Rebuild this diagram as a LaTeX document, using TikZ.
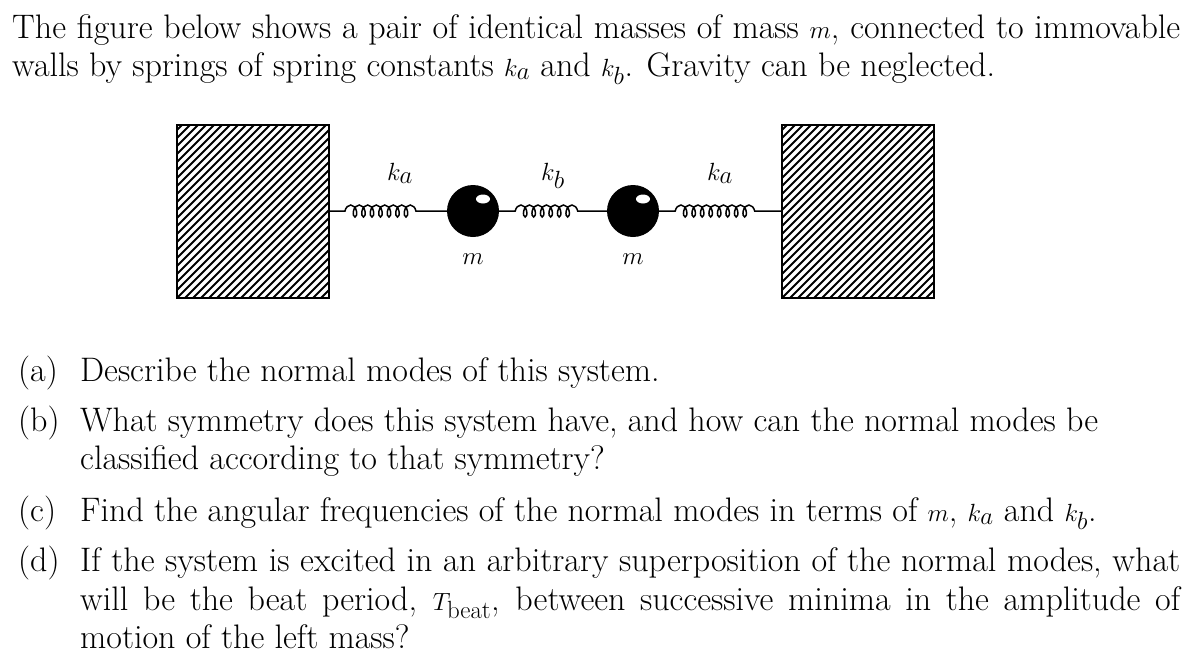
\documentclass[tikz,border=0pt]{standalone}
\usetikzlibrary{decorations.pathmorphing}
\begin{document}
\begin{tikzpicture}[x=1pt,y=-1pt,
  txt/.style={anchor=base west,inner sep=0pt,font=\fontsize{34}{40}\selectfont},
  wall/.style={draw,line width=1.8pt},
  spring/.style={decorate,decoration={coil,aspect=0.6,amplitude=6pt,segment length=8.5pt,pre length=16pt,post length=26pt},line width=1.5pt},
  ball/.style={circle,fill=black,minimum size=52pt,inner sep=0pt}]
\useasboundingbox (0,0) rectangle (1196,670);
\node[txt] (l1) at (12,38) {\makebox[1168pt][s]{The figure below shows a pair of identical masses of mass $m$, connected to immovable}};
\node[txt] (l2) at (12,76) {walls by springs of spring constants $k_a$ and $k_b$. Gravity can be neglected.};
% walls
\foreach \n/\x in {wl/177,wr/782}{
  \begin{scope}
  \clip (\x,125) rectangle (\x+152,298);
  \foreach \i in {-200,-192,...,160} \draw[line width=2pt] (\x+\i,298) -- (\x+\i+173,125);
  \end{scope}
  \draw[wall] (\x,125) rectangle (\x+152,298);
  \coordinate (\n) at (\x,211);
}
\coordinate (wle) at (329,211);
\coordinate (wrs) at (782,211);
\node[ball] (m1) at (473,211) {};
\node[ball] (m2) at (633,211) {};
\fill[white] (483,199) ellipse (7pt and 4.5pt);
\fill[white] (643,199) ellipse (7pt and 4.5pt);
\draw[spring] (wle) -- (m1.west);
\draw[spring] (m1.east) -- (m2.west);
\draw[spring] (m2.east) -- (wrs);
\node[txt,anchor=base] (ka1) at (400,180) {$k_a$};
\node[txt,anchor=base] (kb) at (553,180) {$k_b$};
\node[txt,anchor=base] (ka2) at (720,180) {$k_a$};
\node[txt,anchor=base] (mm1) at (473,264) {$m$};
\node[txt,anchor=base] (mm2) at (633,264) {$m$};
% questions
\node[txt] (qa) at (18,381) {(a)};
\node[txt] (ta) at (80,381) {Describe the normal modes of this system.};
\node[txt] (qb) at (18,431) {(b)};
\node[txt] (tb1) at (80,431) {\makebox[1018pt][s]{What symmetry does this system have, and how can the normal modes be}};
\node[txt] (tb2) at (80,469) {classified according to that symmetry?};
\node[txt] (qc) at (18,521) {(c)};
\node[txt] (tc) at (80,521) {Find the angular frequencies of the normal modes in terms of $m$, $k_a$ and $k_b$.};
\node[txt] (qd) at (18,571) {(d)};
\node[txt] (td1) at (80,571) {\makebox[1100pt][s]{If the system is excited in an arbitrary superposition of the normal modes, what}};
\node[txt] (td2) at (80,610) {\makebox[1100pt][s]{will be the beat period, $T_{\mathrm{beat}}$, between successive minima in the amplitude of}};
\node[txt] (td3) at (80,648) {motion of the left mass?};
\end{tikzpicture}
\end{document}
